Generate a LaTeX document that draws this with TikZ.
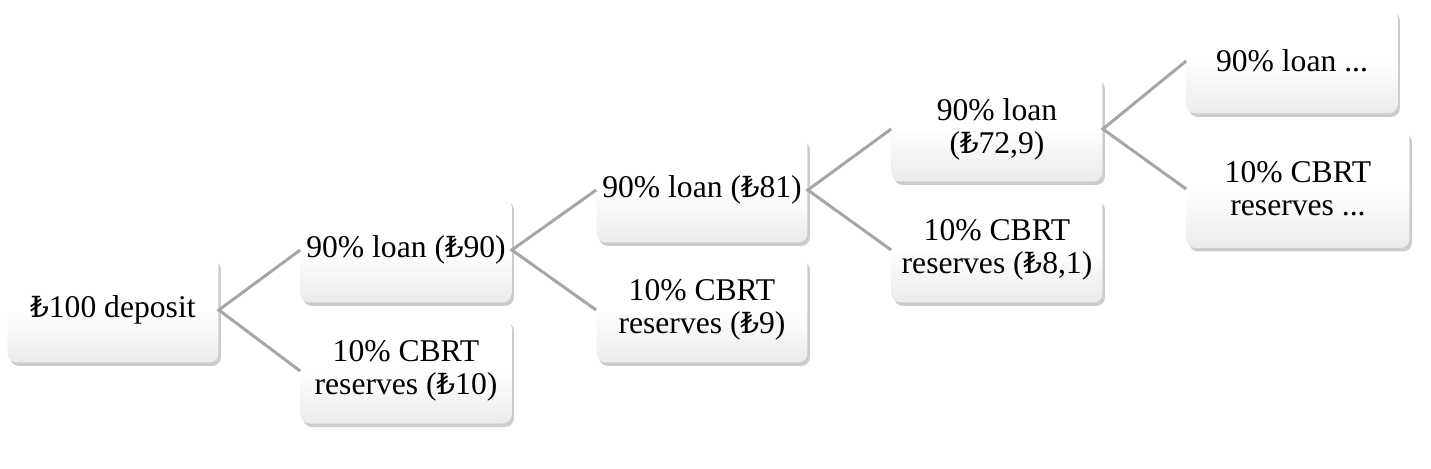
\documentclass[tikz,border=0pt]{standalone}
\usepackage{fontspec}
\setmainfont{Liberation Serif}
\newfontfamily\liraFont[Scale=0.92]{DejaVu Serif}
\newcommand{\lira}{{\liraFont ₺}}
\usetikzlibrary{shadows}

\begin{document}
\begin{tikzpicture}[x=0.02cm, y=-0.02cm]
    % Define colours
    \definecolor{lineColour}{HTML}{A6A6A6}
    \definecolor{shadeColour}{HTML}{EBEBEB}

    % Define box size
    \def\boxWidth{4.22cm}
    \def\boxHeight{2.1cm}

    \tikzset{
        stepBox/.style={rounded corners=0.18cm, minimum width=\boxWidth, minimum height=\boxHeight,
            top color=white, bottom color=shadeColour, middle color=white, align=center, inner sep=2pt,
            font=\fontsize{18}{18.7}\selectfont,
            drop shadow={shadow xshift=0.05cm, shadow yshift=-0.07cm, opacity=0.4, fill=black!50}},
        linkLine/.style={draw=lineColour, line width=1.7pt}
    }

    % Fix the margins
    \useasboundingbox (0,0) rectangle (1431,468);

    % Draw the boxes
    \node[stepBox] (deposit) at (113,310) {\lira100 deposit};
    \node[stepBox] (loanA) at (406,250) {90\% loan (\lira90)};
    \node[stepBox] (reserveA) at (406,371) {10\% CBRT\\reserves (\lira10)};
    \node[stepBox] (loanB) at (702,190) {90\% loan (\lira81)};
    \node[stepBox] (reserveB) at (702,310) {10\% CBRT\\reserves (\lira9)};
    \node[stepBox] (loanC) at (997,129) {90\% loan\\(\lira72,9)};
    \node[stepBox] (reserveC) at (997,250) {10\% CBRT\\reserves (\lira8,1)};
    \node[stepBox] (loanD) at (1292,61) {90\% loan ...};
    \node[stepBox, minimum width=4.46cm, minimum height=2.36cm] (reserveD) at (1298,189) {10\% CBRT\\reserves ...};

    % Draw the links
    \draw[linkLine] (loanA.west) -- (deposit.east) -- (reserveA.west);
    \draw[linkLine] (loanB.west) -- (loanA.east) -- (reserveB.west);
    \draw[linkLine] (loanC.west) -- (loanB.east) -- (reserveC.west);
    \draw[linkLine] (loanD.west) -- (loanC.east) -- (reserveD.west);

\end{tikzpicture}
\end{document}
